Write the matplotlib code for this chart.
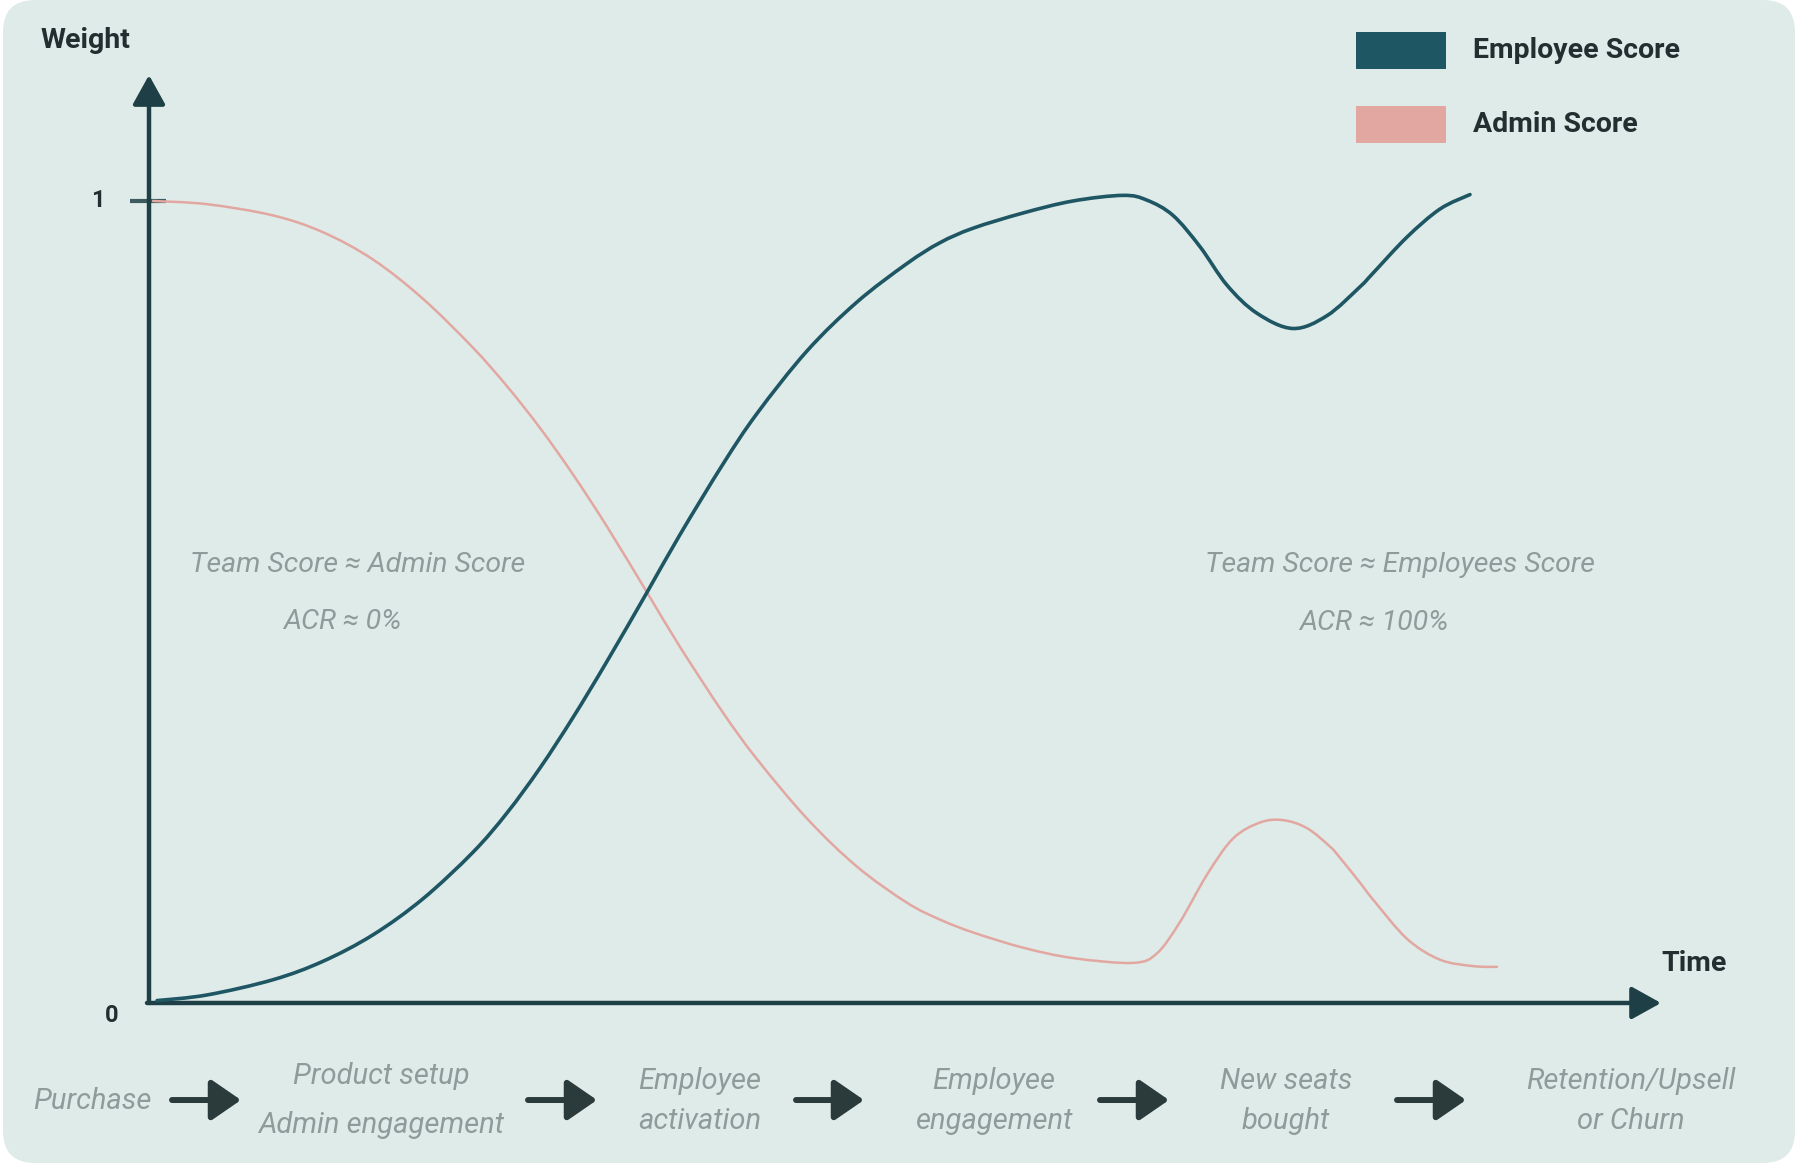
import matplotlib
matplotlib.use("Agg")
import matplotlib.pyplot as plt
from matplotlib.patches import FancyBboxPatch, Rectangle, PathPatch
from matplotlib.path import Path
from matplotlib.transforms import IdentityTransform

plt.rcParams['font.family'] = ['Roboto', 'DejaVu Sans']

# --- data (time in arbitrary units, weight 0..1) ---
emp_t = [0.08, 0.58, 1.24, 1.74, 2.24, 2.74, 3.24, 3.58, 3.91, 4.24, 4.58, 4.98, 5.31,
         5.74, 6.08, 6.58, 7.08, 7.58, 7.91, 8.24, 8.74, 9.24, 9.74, 9.98, 10.24, 10.51,
         10.78, 11.08, 11.44, 11.78, 12.11, 12.24, 12.58, 12.91, 13.21]
emp_w = [0.003, 0.01, 0.029, 0.052, 0.085, 0.13, 0.188, 0.237, 0.293, 0.356, 0.426, 0.512,
         0.584, 0.672, 0.735, 0.813, 0.874, 0.922, 0.948, 0.966, 0.985, 1.0, 1.007, 1.001,
         0.982, 0.943, 0.895, 0.86, 0.841, 0.857, 0.893, 0.91, 0.955, 0.99, 1.008]

adm_t = [0.04, 0.58, 1.24, 1.74, 2.24, 2.74, 3.24, 3.58, 3.91, 4.24, 4.58, 4.98, 5.31,
         5.74, 6.08, 6.58, 7.08, 7.58, 7.91, 8.24, 8.74, 9.24, 9.84, 10.08, 10.31, 10.58,
         10.84, 11.11, 11.34, 11.58, 11.81, 11.91, 12.11, 12.24, 12.58, 12.91, 13.24, 13.48]
adm_w = [1.0, 0.996, 0.982, 0.961, 0.927, 0.878, 0.817, 0.769, 0.717, 0.659, 0.594, 0.512,
         0.444, 0.362, 0.304, 0.23, 0.17, 0.125, 0.104, 0.088, 0.069, 0.056, 0.05, 0.062,
         0.101, 0.16, 0.205, 0.225, 0.228, 0.218, 0.195, 0.181, 0.15, 0.129, 0.08, 0.054,
         0.046, 0.045]

series_names = ["Employee Score", "Admin Score"]
stage_labels = ["Purchase", "Product setup\nAdmin engagement", "Employee\nactivation",
                "Employee\nengagement", "New seats\nbought", "Retention/Upsell\nor Churn"]

# layout
stage_x = [-0.57, 2.32, 5.51, 8.45, 11.37, 14.82]
arrow_x = [(0.23, 0.92), (3.79, 4.48), (6.47, 7.15), (9.51, 10.2), (12.48, 13.17)]

dark = '#1f3f46'
c_emp = '#1f5663'
c_adm = '#e3a7a1'
grey = '#8e9b9a'
ink = '#222e30'
bg = '#deebe9'


def smooth_path(xs, ys):
    # bezier path through the read points (catmull-rom style handles)
    pts = list(zip(xs, ys))
    n = len(pts)
    verts = [pts[0]]
    codes = [Path.MOVETO]
    for i in range(n - 1):
        p0 = pts[max(i - 1, 0)]
        p1 = pts[i]
        p2 = pts[i + 1]
        p3 = pts[min(i + 2, n - 1)]
        c1 = (p1[0] + (p2[0] - p0[0]) / 6, p1[1] + (p2[1] - p0[1]) / 6)
        c2 = (p2[0] - (p3[0] - p1[0]) / 6, p2[1] - (p3[1] - p1[1]) / 6)
        verts += [c1, c2, p2]
        codes += [Path.CURVE4] * 3
    return Path(verts, codes)


fig = plt.figure(figsize=(18, 11.69), dpi=100, facecolor='white')
# card background
card = FancyBboxPatch((3, 6), 1792, 1163, boxstyle="round,pad=0,rounding_size=32",
                      transform=IdentityTransform(), facecolor=bg, edgecolor='none', zorder=-10)
fig.patches.append(card)

ax = fig.add_axes([0, 0, 1, 1])
ax.set_facecolor('none')
ax.set_xlim(-1.49, 16.51)
ax.set_ylim(-0.207, 1.2506)
ax.axis('off')

# axes arrows
ax.annotate('', xy=(0, 1.157), xytext=(0, 0),
            arrowprops=dict(arrowstyle='-|>,head_length=0.9,head_width=0.5', lw=3.2,
                            color=dark, shrinkA=0, shrinkB=0, mutation_scale=20))
ax.annotate('', xy=(15.12, 0), xytext=(-0.02, 0),
            arrowprops=dict(arrowstyle='-|>,head_length=0.9,head_width=0.5', lw=3.2,
                            color=dark, shrinkA=0, shrinkB=0, mutation_scale=20))
ax.plot([-0.19, 0.17], [1, 1], color='#3d5a5e', lw=3, solid_capstyle='butt')

ax.text(-0.51, 1.0, "1", fontsize=17, fontweight='bold', color=ink, ha='center', va='center')
ax.text(-0.37, -0.015, "0", fontsize=17, fontweight='bold', color=ink, ha='center', va='center')
ax.text(-0.64, 1.2, "Weight", fontsize=20.5, fontweight='bold', color=ink, ha='center', va='center')
ax.text(15.45, 0.049, "Time", fontsize=20.5, fontweight='bold', color=ink, ha='center', va='center')

# curves
ax.add_patch(PathPatch(smooth_path(emp_t, emp_w), fill=False, edgecolor=c_emp, lw=2.6,
                       capstyle='round', joinstyle='round', zorder=3))
ax.add_patch(PathPatch(smooth_path(adm_t, adm_w), fill=False, edgecolor=c_adm, lw=1.8,
                       capstyle='round', joinstyle='round', zorder=2))

# annotations
ax.text(2.09, 0.546, "Team Score ≈ Admin Score", fontsize=20.5, style='italic', color=grey,
        ha='center', va='center')
ax.text(1.93, 0.475, "ACR ≈ 0%", fontsize=20.5, style='italic', color=grey, ha='center', va='center')
ax.text(12.51, 0.546, "Team Score ≈ Employees Score", fontsize=20.5, style='italic', color=grey,
        ha='center', va='center')
ax.text(12.25, 0.474, "ACR ≈ 100%", fontsize=20.5, style='italic', color=grey, ha='center', va='center')

# stage labels and arrows
for lab, x in zip(stage_labels, stage_x):
    ls = 1.97 if lab.startswith("Product") else 1.55
    ax.text(x, -0.122, lab, fontsize=21, style='italic', color=grey, ha='center', va='center',
            linespacing=ls)
for x0, x1 in arrow_x:
    ax.annotate('', xy=(x1, -0.121), xytext=(x0, -0.121),
                arrowprops=dict(arrowstyle='-|>,head_length=0.9,head_width=0.62', lw=4.3,
                                color='#2b3a3a', shrinkA=0, shrinkB=0, mutation_scale=20))

# legend (swatch + bold label)
legend_top = [1.2107, 1.1185]
for name, col, top in zip(series_names, [c_emp, c_adm], legend_top):
    ax.add_patch(Rectangle((12.07, top - 0.0465), 0.9, 0.0465, facecolor=col, edgecolor='none'))
    ax.text(13.24, top - 0.0235, name, fontsize=20.5, fontweight='bold', color=ink,
            ha='left', va='center')

fig.savefig('out.png', dpi=100, facecolor='white')
